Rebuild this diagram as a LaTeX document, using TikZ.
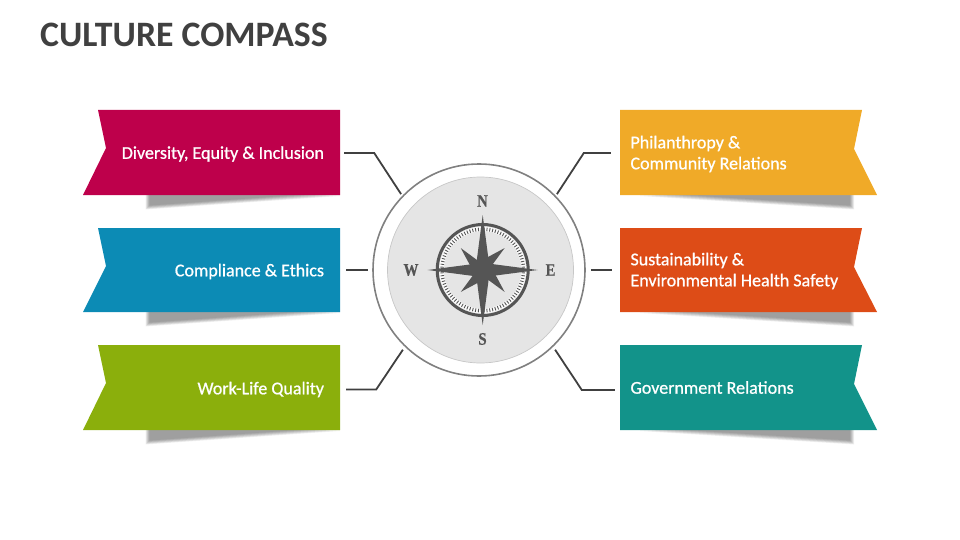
\documentclass[tikz,border=0pt]{standalone}
\usepackage{fontspec}
\setmainfont{Carlito}
\newfontfamily\tagfont[FakeBold=0.8]{Carlito}
\newfontfamily\letterfont[FakeStretch=0.85,FakeBold=0.5]{Liberation Serif}
\usepackage{xcolor}
\usetikzlibrary{positioning}
\definecolor{crimson}{RGB}{190, 0, 75}
\definecolor{ocean}{RGB}{12, 139, 181}
\definecolor{olive}{RGB}{139, 175, 12}
\definecolor{amber}{RGB}{240, 170, 40}
\definecolor{rust}{RGB}{221, 76, 23}
\definecolor{teal}{RGB}{18, 147, 138}
\definecolor{ink}{RGB}{64, 64, 64}
\definecolor{needle}{RGB}{85, 85, 85}
\definecolor{dial}{RGB}{229, 229, 229}
\tikzstyle{link} = [
    line width=1.8pt,
    draw=ink
]
\tikzstyle{lefttag} = [
    minimum width=242,
    minimum height=85,
    text width=210,
    inner xsep=16,
    inner ysep=0,
    align=flush right,
    text=white,
    font=\fontsize{18}{21}\selectfont\tagfont
]
\tikzstyle{righttag} = [
    minimum width=242,
    minimum height=85,
    text width=221,
    inner xsep=10.5,
    inner ysep=0,
    align=flush left,
    text=white,
    font=\fontsize{18}{21}\selectfont\tagfont
]
\tikzstyle{letter} = [
    inner sep=0,
    text=needle,
    font=\fontsize{17.5}{18}\selectfont\letterfont\bfseries
]
% soft wedge below a tag: corner x, top y, far x, side
\newcommand{\tagshadow}[4]{
    \foreach \b in {4,3.5,...,0}
        \fill[black, opacity=0.05]
            (#1+#4*\b,#2-3) -- (#1+#4*\b,#2+10.5+\b) -- (#3,#2-3+\b) -- cycle;
}
\begin{document}
\begin{tikzpicture}[x=1pt,y=-1pt]
    \useasboundingbox (0,0) rectangle (960,540);

    % Title
    \node[anchor=west, inner sep=0, text=ink, font=\fontsize{35.75}{36}\selectfont\bfseries] (title) at (40,34.5) {CULTURE COMPASS};

    % Shadows
    \tagshadow{149.5}{195}{340}{-1}
    \tagshadow{149.5}{312}{340}{-1}
    \tagshadow{149.5}{430}{340}{-1}
    \tagshadow{850}{195}{640}{1}
    \tagshadow{850}{312}{640}{1}
    \tagshadow{850}{430}{640}{1}

    % Left tags
    \fill[crimson] (98,110) -- (340,110) -- (340,195) -- (83,195) -- (106,148) -- cycle;
    \node[lefttag] (diversity) at (219,154) {Diversity, Equity \& Inclusion};
    \fill[ocean] (98,228) -- (340,228) -- (340,312) -- (83,312) -- (106,266) -- cycle;
    \node[lefttag] (compliance) at (219,271.5) {Compliance \& Ethics};
    \fill[olive] (98,345) -- (340,345) -- (340,430) -- (83,430) -- (106,383) -- cycle;
    \node[lefttag] (worklife) at (219,389.5) {Work-Life Quality};

    % Right tags
    \fill[amber] (620,110) -- (862,110) -- (854,149) -- (877,195) -- (620,195) -- cycle;
    \node[righttag] (philanthropy) at (741,154) {Philanthropy \&\\Community Relations};
    \fill[rust] (620,228) -- (862,228) -- (854,267) -- (877,312) -- (620,312) -- cycle;
    \node[righttag] (sustainability) at (741,271) {Sustainability \&\\Environmental Health Safety};
    \fill[teal] (620,345) -- (862,345) -- (854,384) -- (877,430) -- (620,430) -- cycle;
    \node[righttag] (government) at (741,387.5) {Government Relations};

    % Compass
    \node[circle, draw=black!50, line width=1.6pt, minimum size=212, inner sep=0] (hub) at (479,270) {};
    \node[circle, draw=black!22, fill=dial, line width=0.7pt, minimum size=186, inner sep=0] (face) at (480.5,270) {};
    \begin{scope}[shift={(482.7,270)}]
        \draw[white!90!dial, line width=4.5] (0,0) circle (41);
        \foreach \a in {0,4,...,356}
            \draw[needle, line width=0.9] (\a:39) -- (\a:42.5);
        \draw[needle, line width=3] (0,0) circle (45.5);
        % long and short points
        \fill[needle] (0:55) -- (45:9) -- (90:55) -- (135:9) -- (180:55) -- (225:9) -- (270:55) -- (315:9) -- cycle;
        \fill[needle] (45:31) -- (67.5:9) -- (135:31) -- (157.5:9) -- (225:31) -- (247.5:9) -- (315:31) -- (337.5:9) -- cycle;
    \end{scope}
    \node[letter] (north) at (482.5,201) {N};
    \node[letter] (south) at (482.5,339) {S};
    \node[letter] (east) at (550.5,270) {E};
    \node[letter] (west) at (411,270) {W};

    % Connectors
    \draw[link, shorten <=4, shorten >=2] (diversity.east) ++(0,-1) -- ++(34,0) -- (hub.136);
    \draw[link, shorten <=6, shorten >=4] (compliance.east) ++(0,-1.5) -- (hub.west);
    \draw[link, shorten <=6, shorten >=3.5] (worklife.east) -- ++(36,0) -- (hub.226);
    \draw[link, shorten <=9, shorten >=2] (philanthropy.west) ++(0,-1) -- ++(-36,0) -- (hub.44);
    \draw[link, shorten <=8, shorten >=5] (sustainability.west) ++(0,-1) -- (hub.east);
    \draw[link, shorten <=5, shorten >=3.5] (government.west) ++(0,2.5) -- ++(-38,0) -- (hub.314);
\end{tikzpicture}
\end{document}
